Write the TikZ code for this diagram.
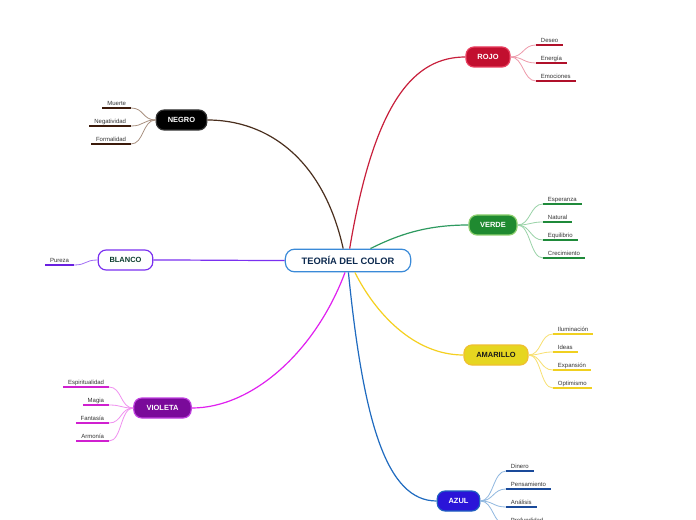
\documentclass[tikz,border=0pt]{standalone}
\usepackage{fontspec}
\setmainfont{Liberation Sans}
\definecolor{cborder}{HTML}{3A8AD8}
\definecolor{ctext}{HTML}{0D2A4F}
\definecolor{rojoF}{HTML}{C20F2F}
\definecolor{rojoB}{HTML}{E84060}
\definecolor{rojoL}{HTML}{EE9AAA}
\definecolor{rojoU}{HTML}{B0102A}
\definecolor{rojoC}{HTML}{C8203C}
\definecolor{negroC}{HTML}{4A2F1E}
\definecolor{negroL}{HTML}{A89080}
\definecolor{negroU}{HTML}{3B1A0A}
\definecolor{verdeF}{HTML}{1F8A30}
\definecolor{verdeB}{HTML}{8FD070}
\definecolor{verdeC}{HTML}{2E9A60}
\definecolor{verdeL}{HTML}{9AD3A8}
\definecolor{verdeU}{HTML}{1F8A3A}
\definecolor{amaF}{HTML}{E6D620}
\definecolor{amaB}{HTML}{F0C030}
\definecolor{amaC}{HTML}{F5D020}
\definecolor{amaL}{HTML}{F8E070}
\definecolor{amaU}{HTML}{F0D020}
\definecolor{azulF}{HTML}{2A14D8}
\definecolor{azulB}{HTML}{2060C0}
\definecolor{azulC}{HTML}{1F6BC0}
\definecolor{azulL}{HTML}{90B8E0}
\definecolor{azulU}{HTML}{1A4A9A}
\definecolor{blancoB}{HTML}{7A30F0}
\definecolor{blancoT}{HTML}{0B3D2E}
\definecolor{blancoU}{HTML}{6A20E0}
\definecolor{violF}{HTML}{7A0A9A}
\definecolor{violB}{HTML}{C040E0}
\definecolor{violC}{HTML}{E020F0}
\definecolor{violL}{HTML}{F090F0}
\definecolor{violU}{HTML}{D020D0}
\begin{document}
\begin{tikzpicture}[x=0.75pt,y=-0.75pt,
  branch/.style={rectangle, rounded corners=6pt, line width=0.9pt,
    font=\bfseries\fontsize{5.6}{6}\selectfont, text=white,
    minimum height=15pt, inner xsep=2pt},
  leaf/.style={font=\fontsize{4.5}{5}\selectfont, text=black!80,
    inner xsep=3.5pt, inner ysep=1pt, text height=3.4pt, text depth=1pt},
  maincon/.style={line width=0.9pt},
  leafcon/.style={line width=0.6pt},
  uline/.style={line width=1pt}]
\useasboundingbox (0,0) rectangle (696,520);
\fill[white] (0,0) rectangle (696,520);
\clip (0,0) rectangle (696,520);

% central node
\node[rectangle, rounded corners=7pt, draw=cborder, line width=0.9pt, fill=white,
  minimum width=94pt, minimum height=17pt, text=ctext,
  font=\bfseries\fontsize{7}{8}\selectfont] (c) at (348,260.5) {TEORÍA DEL COLOR};

% branch nodes
\node[branch, fill=rojoF, draw=rojoB, minimum width=33pt] (rojo) at (488,57) {ROJO};
\node[branch, fill=black, draw=black!80, minimum width=38pt] (negro) at (181.5,120) {NEGRO};
\node[branch, fill=verdeF, draw=verdeB, minimum width=36pt] (verde) at (493,225) {VERDE};
\node[branch, fill=amaF, draw=amaB, text=black!90, minimum width=48pt] (amarillo) at (496,355) {AMARILLO};
\node[branch, fill=azulF, draw=azulB, minimum width=32pt] (azul) at (458.5,501) {AZUL};
\node[branch, fill=white, draw=blancoB, text=blancoT, minimum width=41pt] (blanco) at (125.5,260) {BLANCO};
\node[branch, fill=violF, draw=violB, minimum width=43pt] (violeta) at (162.5,408) {VIOLETA};

% main connectors
\draw[maincon, rojoC] (c.82) .. controls +(25,-150) and +(-50,0) .. (rojo.west);
\draw[maincon, negroC] (c.112) .. controls +(-20,-90) and +(60,0) .. (negro.east);
\draw[maincon, verdeC] (c.28) .. controls +(30,-15) and +(-40,0) .. (verde.west);
\draw[maincon, amaC] (c.-60) .. controls +(20,40) and +(-50,0) .. (amarillo.west);
\draw[maincon, azulC] (c.-88) .. controls +(15,150) and +(-50,0) .. (azul.west);
\draw[maincon, violC] (c.-104) .. controls +(-30,80) and +(60,0) .. (violeta.east);
\draw[maincon, blancoB] (c.west) .. controls +(-40,0) and +(40,0) .. (blanco.east);

% ROJO leaves
\node[leaf, anchor=south west] (r1) at (536,45) {Deseo};
\node[leaf, anchor=south west] (r2) at (536,63) {Energía};
\node[leaf, anchor=south west] (r3) at (536,81) {Emociones};
\foreach \l in {r1,r2,r3}{
  \draw[leafcon, rojoL] (rojo.east) .. controls +(13,0) and +(-13,0) .. (\l.south west);
  \draw[uline, rojoU] (\l.south west) -- (\l.south east);}

% NEGRO leaves
\node[leaf, anchor=south east] (n1) at (131,108) {Muerte};
\node[leaf, anchor=south east] (n2) at (131,126) {Negatividad};
\node[leaf, anchor=south east] (n3) at (131,144) {Formalidad};
\foreach \l in {n1,n2,n3}{
  \draw[leafcon, negroL] (negro.west) .. controls +(-13,0) and +(13,0) .. (\l.south east);
  \draw[uline, negroU] (\l.south west) -- (\l.south east);}

% VERDE leaves
\node[leaf, anchor=south west] (v1) at (543,204) {Esperanza};
\node[leaf, anchor=south west] (v2) at (543,222) {Natural};
\node[leaf, anchor=south west] (v3) at (543,240) {Equilibrio};
\node[leaf, anchor=south west] (v4) at (543,258) {Crecimiento};
\foreach \l in {v1,v2,v3,v4}{
  \draw[leafcon, verdeL] (verde.east) .. controls +(13,0) and +(-13,0) .. (\l.south west);
  \draw[uline, verdeU] (\l.south west) -- (\l.south east);}

% AMARILLO leaves
\node[leaf, anchor=south west] (a1) at (553,334) {Iluminación};
\node[leaf, anchor=south west] (a2) at (553,352) {Ideas};
\node[leaf, anchor=south west] (a3) at (553,370) {Expansión};
\node[leaf, anchor=south west] (a4) at (553,388) {Optimismo};
\foreach \l in {a1,a2,a3,a4}{
  \draw[leafcon, amaL] (amarillo.east) .. controls +(13,0) and +(-13,0) .. (\l.south west);
  \draw[uline, amaU] (\l.south west) -- (\l.south east);}

% AZUL leaves
\node[leaf, anchor=south west] (z1) at (506,471) {Dinero};
\node[leaf, anchor=south west] (z2) at (506,489) {Pensamiento};
\node[leaf, anchor=south west] (z3) at (506,507) {Análisis};
\node[leaf, anchor=south west] (z4) at (506,525) {Profundidad};
\foreach \l in {z1,z2,z3,z4}{
  \draw[leafcon, azulL] (azul.east) .. controls +(13,0) and +(-13,0) .. (\l.south west);
  \draw[uline, azulU] (\l.south west) -- (\l.south east);}

% BLANCO leaf
\node[leaf, anchor=south east] (b1) at (74,265) {Pureza};
\draw[leafcon, blancoB!70] (blanco.west) .. controls +(-13,0) and +(13,0) .. (b1.south east);
\draw[uline, blancoU] (b1.south west) -- (b1.south east);

% VIOLETA leaves
\node[leaf, anchor=south east] (p1) at (109,387) {Espiritualidad};
\node[leaf, anchor=south east] (p2) at (109,405) {Magia};
\node[leaf, anchor=south east] (p3) at (109,423) {Fantasía};
\node[leaf, anchor=south east] (p4) at (109,441) {Armonía};
\foreach \l in {p1,p2,p3,p4}{
  \draw[leafcon, violL] (violeta.west) .. controls +(-13,0) and +(13,0) .. (\l.south east);
  \draw[uline, violU] (\l.south west) -- (\l.south east);}
\end{tikzpicture}
\end{document}
